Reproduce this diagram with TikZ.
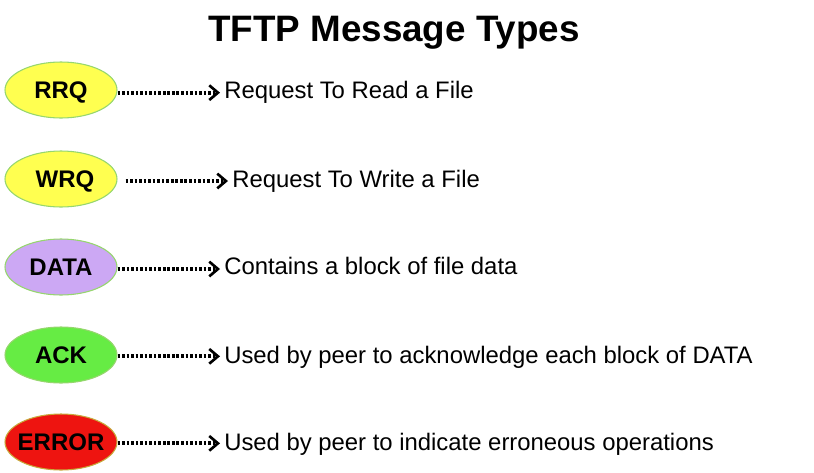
\documentclass[tikz,border=0pt]{standalone}
\usepackage{fontspec}
\setmainfont{Liberation Sans}
\usetikzlibrary{shapes.geometric,arrows.meta}

\definecolor{rrqyellow}{RGB}{255,255,80}
\definecolor{datalilac}{RGB}{204,168,244}
\definecolor{ackgreen}{RGB}{102,236,68}
\definecolor{errred}{RGB}{238,20,16}
\definecolor{rimgreen}{RGB}{150,214,110}
\definecolor{rimgold}{RGB}{200,170,60}

\begin{document}
\begin{tikzpicture}[x=0.75pt,y=-0.75pt,
    msgtype/.style={ellipse,draw=rimgreen,line width=0.8pt,minimum width=84pt,minimum height=42pt,inner sep=0pt,
        text depth=0pt,font=\fontsize{18}{20}\selectfont\bfseries},
    msgtext/.style={anchor=base west,inner sep=0pt,font=\fontsize{17.9}{20}\selectfont},
    msgarrow/.style={line width=2.8pt,dash pattern=on 2pt off 1.4pt,shorten >=3pt,
        -{Straight Barb[length=6.5pt,width=11pt,line width=2pt]}}]
    \useasboundingbox (0,0) rectangle (814,472);
    %\draw[very thin,color=gray] (0,0) grid[step=50] (814,472);
    \node[anchor=base,font=\fontsize{27.6}{32}\selectfont\bfseries] (title) at (394,41) {TFTP Message Types};

    % message types
    \node[msgtype,fill=rrqyellow] (rrq) at (61,90) {RRQ};
    \node[msgtype,fill=rrqyellow] (wrq) at (61,179) {\hspace{6pt}WRQ};
    \node[msgtype,fill=datalilac] (data) at (61,267) {DATA};
    \node[msgtype,fill=ackgreen] (ack) at (61,355) {ACK};
    \node[msgtype,fill=errred,draw=rimgold,inner xsep=-9pt] (error) at (61,442) {ERROR};

    % what they mean
    \node[msgtext] (rrqtxt) at (224,98) {Request To Read a File};
    \node[msgtext] (wrqtxt) at (232,187) {Request To Write a File};
    \node[msgtext] (datatxt) at (224,274) {Contains a block of file data};
    \node[msgtext] (acktxt) at (224,363) {Used by peer to acknowledge each block of DATA};
    \node[msgtext] (errortxt) at (224,450) {Used by peer to indicate erroneous operations};

    \draw[msgarrow] ([yshift=-2pt]rrq.east) -- ([yshift=-2pt]rrq.east -| rrqtxt.west);
    \draw[msgarrow] ([xshift=6pt,yshift=-1.5pt]wrq.east) -- ([yshift=-1.5pt]wrq.east -| wrqtxt.west);
    \draw[msgarrow] ([yshift=-1.5pt]data.east) -- ([yshift=-1.5pt]data.east -| datatxt.west);
    \draw[msgarrow] ([yshift=-1pt]ack.east) -- ([yshift=-1pt]ack.east -| acktxt.west);
    \draw[msgarrow] ([yshift=-1pt]error.east) -- ([yshift=-1pt]error.east -| errortxt.west);
\end{tikzpicture}
\end{document}
